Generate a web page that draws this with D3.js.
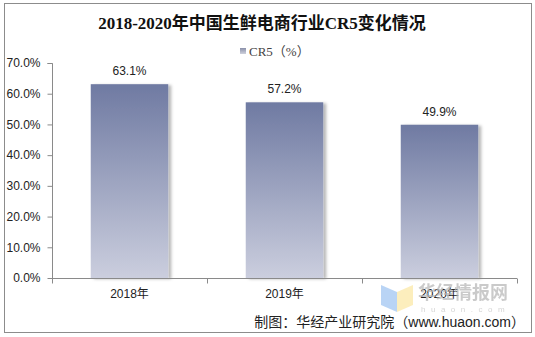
<!DOCTYPE html>
<html>
<head>
<meta charset="utf-8">
<script src="https://cdn.jsdelivr.net/npm/d3@7/dist/d3.min.js"></script>
<style>
  html, body { margin: 0; padding: 0; background: #fff; }
  svg { display: block; }
</style>
</head>
<body>
<svg id="chart" width="535" height="337"></svg>
<script>
// CR5 concentration of China's fresh-food e-commerce market
const years = ["2018年", "2019年", "2020年"];
const cr5 = [63.1, 57.2, 49.9];
const yTicks = [0, 10, 20, 30, 40, 50, 60, 70];
const titleText = "2018-2020年中国生鲜电商行业CR5变化情况";
const legendText = "CR5（%）";
const sourceText = "制图：华经产业研究院（www.huaon.com）";

const svg = d3.select("#chart");
const plot = { left: 52, right: 517, top: 63, bottom: 278 };

const defs = svg.append("defs");
const grad = defs.append("linearGradient")
  .attr("id", "barGrad").attr("x1", 0).attr("y1", 0).attr("x2", 0).attr("y2", 1);
grad.append("stop").attr("offset", "0%").attr("stop-color", "#6f7aa2");
grad.append("stop").attr("offset", "100%").attr("stop-color", "#cbcede");

const legGrad = defs.append("linearGradient")
  .attr("id", "legGrad").attr("x1", 0).attr("y1", 0).attr("x2", 0).attr("y2", 1);
legGrad.append("stop").attr("offset", "0%").attr("stop-color", "#8a90aa");
legGrad.append("stop").attr("offset", "100%").attr("stop-color", "#cfd1dc");

const shadow = defs.append("filter").attr("id", "barShadow")
  .attr("x", "-10%").attr("y", "-10%").attr("width", "130%").attr("height", "120%");
shadow.append("feDropShadow").attr("dx", 3).attr("dy", 1)
  .attr("stdDeviation", 1.6).attr("flood-color", "#000").attr("flood-opacity", 0.28);

// outer frame
svg.append("rect").attr("x", 4.5).attr("y", 3.5).attr("width", 527).attr("height", 329)
  .attr("fill", "#fff").attr("stroke", "#8c8c8c").attr("stroke-width", 1);

// title
svg.append("text")
  .attr("x", 262).attr("y", 29)
  .attr("text-anchor", "middle")
  .attr("font-family", "'Liberation Serif', 'DejaVu Serif', 'Noto Sans CJK SC', serif")
  .attr("font-size", 17).attr("font-weight", "bold").attr("fill", "#111")
  .text(titleText);

// legend
svg.append("rect").attr("x", 240).attr("y", 48).attr("width", 6).attr("height", 6)
  .attr("fill", "url(#legGrad)");
svg.append("text").attr("x", 249).attr("y", 56)
  .attr("font-family", "'Liberation Serif', 'Noto Sans CJK SC', serif")
  .attr("font-size", 13).attr("fill", "#444")
  .text(legendText);

const x = d3.scaleBand().domain(years).range([plot.left, plot.right])
  .paddingInner(0.5).paddingOuter(0.25);
const y = d3.scaleLinear().domain([0, 70]).range([plot.bottom, plot.top]);

// bars
svg.append("g").selectAll("rect").data(cr5).join("rect")
  .attr("x", (d, i) => x(years[i]))
  .attr("y", d => y(d))
  .attr("width", x.bandwidth())
  .attr("height", d => y(0) - y(d))
  .attr("fill", "url(#barGrad)")
  .attr("filter", "url(#barShadow)");

// value labels
svg.append("g").selectAll("text").data(cr5).join("text")
  .attr("x", (d, i) => x(years[i]) + x.bandwidth() / 2)
  .attr("y", d => y(d) - 9)
  .attr("text-anchor", "middle")
  .attr("font-family", "'Liberation Sans', Arial, sans-serif")
  .attr("font-size", 12).attr("fill", "#222")
  .text(d => d.toFixed(1) + "%");

// y axis
const yAxis = svg.append("g").attr("transform", `translate(${plot.left + 0.5},0)`)
  .call(d3.axisLeft(y).tickValues(yTicks).tickSize(5).tickPadding(7)
    .tickFormat(d => d.toFixed(1) + "%"));
yAxis.select(".domain").attr("stroke", "#8a8a8a").attr("d", `M-5,${y(70) + 0.5}H0V${y(0) + 0.5}`);
yAxis.selectAll(".tick line").attr("stroke", "#8a8a8a");
yAxis.selectAll(".tick text")
  .attr("font-family", "'Liberation Sans', Arial, sans-serif")
  .attr("font-size", 12).attr("fill", "#222");

// x axis (ticks at category boundaries)
const xg = svg.append("g").attr("transform", `translate(0,${plot.bottom + 0.5})`);
xg.append("line").attr("x1", plot.left).attr("x2", plot.right)
  .attr("stroke", "#8a8a8a");
const step = x.step();
const bounds = d3.range(years.length + 1).map(i => plot.left + i * step);
xg.selectAll("line.tk").data(bounds).join("line").attr("class", "tk")
  .attr("x1", d => Math.round(d) + 0.5).attr("x2", d => Math.round(d) + 0.5)
  .attr("y1", 0).attr("y2", 5).attr("stroke", "#8a8a8a");
xg.selectAll("text").data(years).join("text")
  .attr("x", d => x(d) + x.bandwidth() / 2)
  .attr("y", 19)
  .attr("text-anchor", "middle")
  .attr("font-family", "'Liberation Sans', Arial, 'Noto Sans CJK SC', sans-serif")
  .attr("font-size", 12).attr("fill", "#222")
  .text(d => d);

// watermark logo (drawn beneath the source note)
const wm = svg.append("g").attr("opacity", 0.7);
wm.append("path").attr("d", "M381,285 L397,292 L397,312 L381,305 Z").attr("fill", "#9cc3f2");
wm.append("path").attr("d", "M397,292 L413,285 L413,305 L397,312 Z").attr("fill", "#fbe7a2");
wm.append("text").attr("x", 418).attr("y", 299)
  .attr("font-family", "'Noto Sans CJK SC', sans-serif")
  .attr("font-size", 18).attr("font-weight", "bold").attr("fill", "#b5b5b5")
  .text("华经情报网");
wm.append("text").attr("x", 421).attr("y", 312)
  .attr("font-family", "'Liberation Sans', Arial, sans-serif")
  .attr("font-size", 8).attr("letter-spacing", 5.5).attr("fill", "#c4c4c4")
  .text("huaon.com");

// source note
svg.append("text").attr("x", 525).attr("y", 327)
  .attr("text-anchor", "end")
  .attr("font-family", "'Liberation Sans', Arial, 'Noto Sans CJK SC', sans-serif")
  .attr("font-size", 14).attr("fill", "#222")
  .text(sourceText);
</script>
</body>
</html>
